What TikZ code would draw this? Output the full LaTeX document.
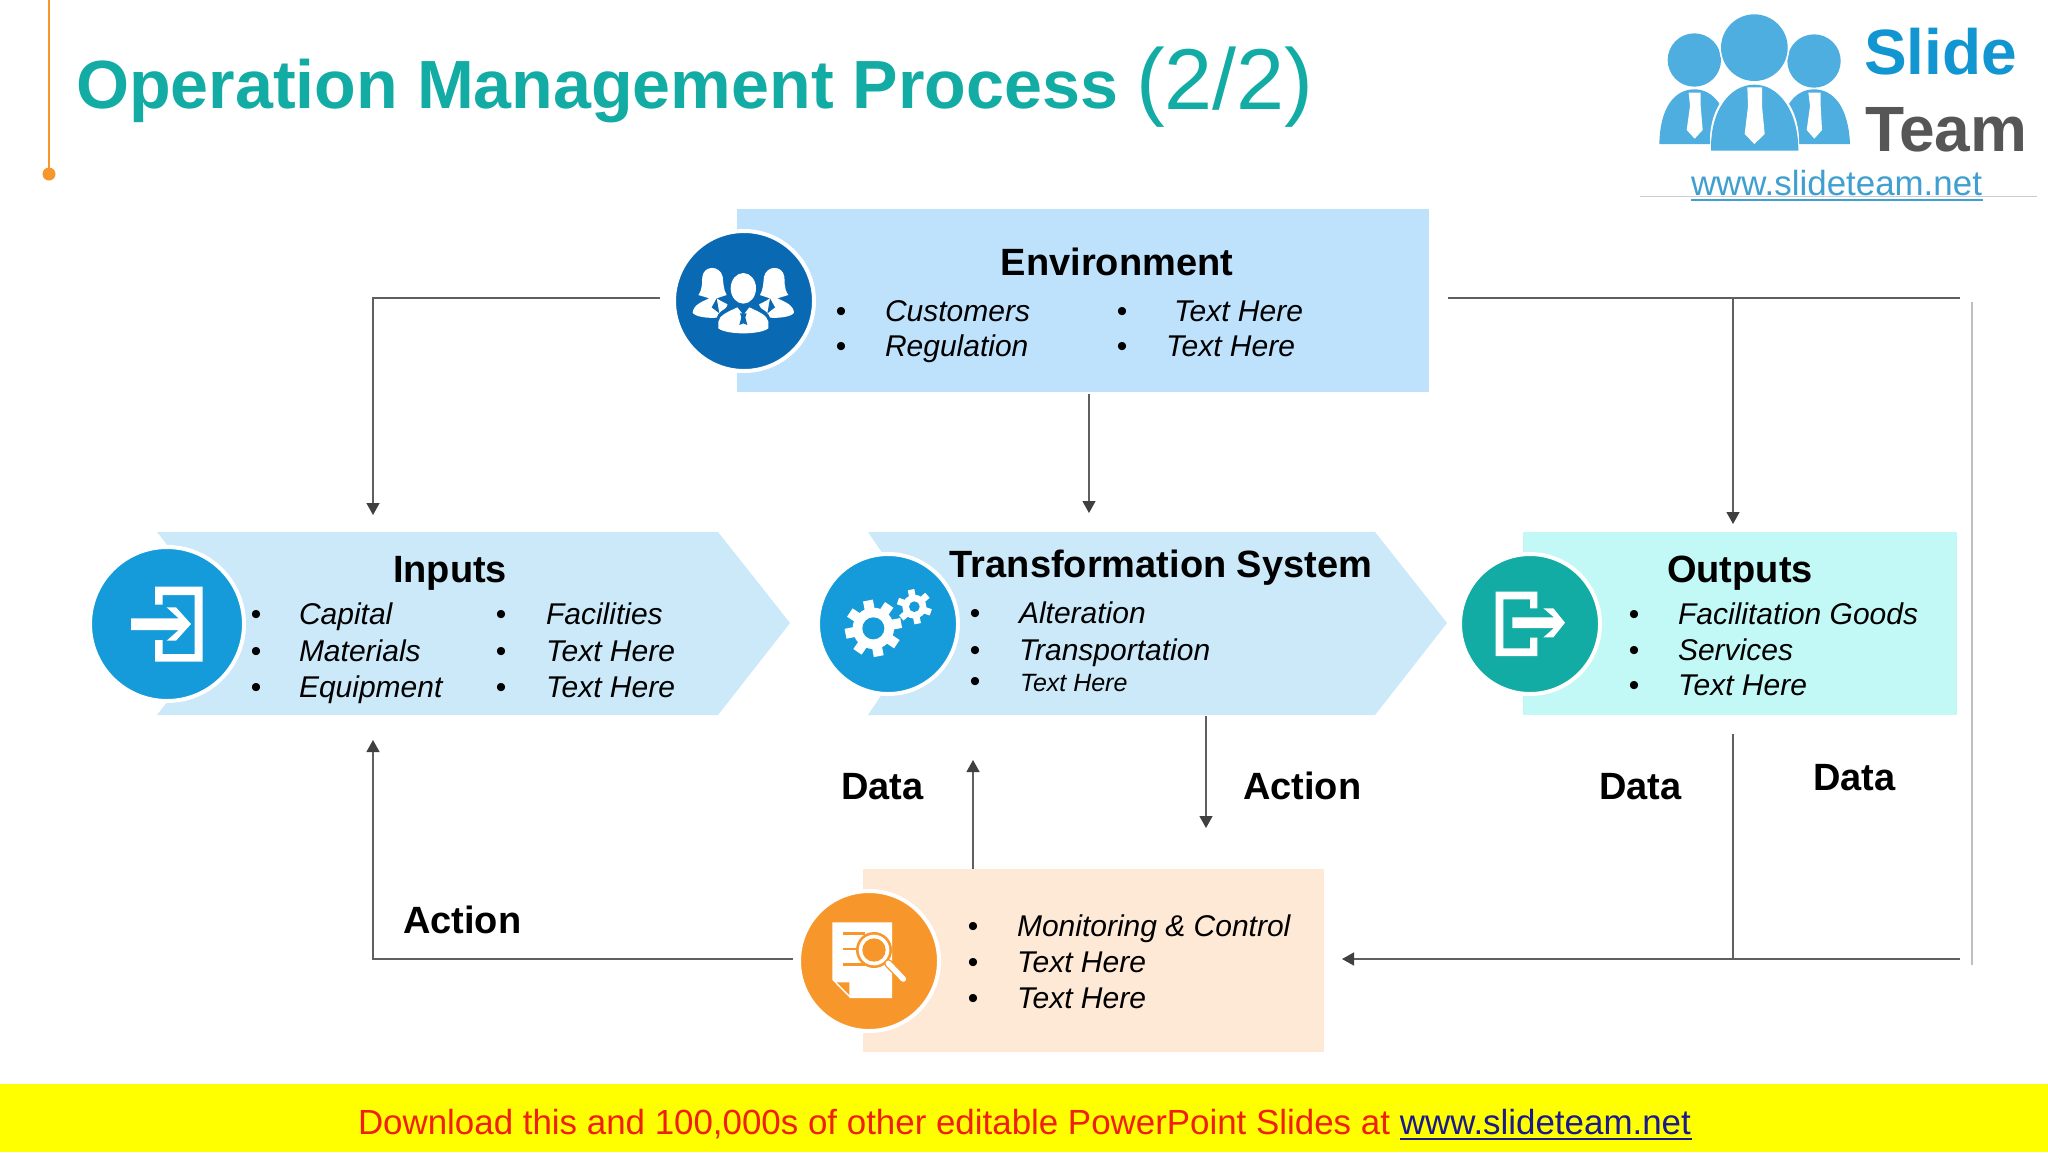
\documentclass[tikz,border=0pt]{standalone}
\usepackage{fontspec}
\setmainfont{Liberation Sans}
\usetikzlibrary{arrows.meta}
\definecolor{teal1}{HTML}{13ACA4}
\definecolor{blue1}{HTML}{159BD9}
\definecolor{blue2}{HTML}{0A69B3}
\definecolor{orange1}{HTML}{F7962A}
\definecolor{envfill}{HTML}{BEE1FC}
\definecolor{chevfill}{HTML}{CBE9F9}
\definecolor{outfill}{HTML}{C2F8F5}
\definecolor{monfill}{HTML}{FEE8D6}
\definecolor{linec}{HTML}{5F5F5F}
\definecolor{tipc}{HTML}{404040}
\definecolor{logoblue}{HTML}{4FAEE0}
\definecolor{slideblue}{HTML}{1296D2}
\definecolor{teamgrey}{HTML}{565656}
\definecolor{urlblue}{HTML}{3F9FD0}
\definecolor{yellowband}{HTML}{FFFF00}
\definecolor{footred}{HTML}{F02010}
\definecolor{footblue}{HTML}{1A1A8C}
\tikzset{
  conn/.style={draw=linec,line width=0.65pt},
  arr/.style={conn,-{Triangle[length=6pt,width=6.5pt,color=tipc,fill=tipc]}},
  circ/.style={circle,draw=white,line width=2pt,minimum size=70pt,inner sep=0pt},
  tbox/.style={inner sep=0pt,outer sep=0pt},
  hd/.style={tbox,anchor=base,font=\fontsize{19}{19}\selectfont\bfseries},
  lab/.style={tbox,anchor=base west,font=\fontsize{19}{19}\selectfont\bfseries},
  itx/.style={tbox,anchor=base west,font=\fontsize{15}{15}\selectfont\itshape},
  itsm/.style={tbox,anchor=base west,font=\fontsize{12.5}{12.5}\selectfont\itshape},
  bul/.style={tbox,anchor=base,font=\fontsize{15}{15}\selectfont},
  icon/.style={x=0.16667pt,y=-0.16667pt}
}
\newcommand{\cog}[7]{% cx cy outer inner hole teeth toothwidth
  \fill[white] (#1,#2) circle (#4);
  \foreach \a in {1,...,#6}{
    \fill[white,rotate around={\a*360/#6+11:(#1,#2)}] (#1-#7,#2) -- ++(0,-#3) -- ++(2*#7,0) -- (#1+#7,#2) -- cycle;
  }
  \fill[blue1] (#1,#2) circle (#5);
}
\begin{document}
\begin{tikzpicture}[x=0.5pt,y=-0.5pt]
\useasboundingbox (0,0) rectangle (2048,1152);
\fill[white] (0,0) rectangle (2048,1152);
% title accent
\draw[orange1,line width=1pt] (49,0) -- (49,172);
\fill[orange1] (49,174) circle (6.5);
\node[tbox,anchor=base west,text=teal1,font=\fontsize{34.1}{34}\selectfont\bfseries] (title) at (76,108) {Operation Management Process};
\node[tbox,anchor=base west,text=teal1,font=\fontsize{43.2}{43}\selectfont] (titleb) at (1136,109) {(2/2)};
% logo
\begin{scope}[shift={(1600,0)},icon]
  \fill[logoblue] (178,432) .. controls (180,320) and (225,268) .. (283,268) .. controls (340,268) and (385,320) .. (388,432) -- cycle;
  \fill[logoblue] (538,432) .. controls (540,320) and (585,268) .. (642,268) .. controls (700,268) and (745,320) .. (750,432) -- cycle;
  \fill[white] (330,452) -- (330,420) .. controls (330,320) and (390,248) .. (463,248) .. controls (535,248) and (595,320) .. (597,420) -- (597,452) -- cycle;
  \fill[logoblue] (333,452) .. controls (330,330) and (390,254) .. (463,254) .. controls (535,254) and (595,330) .. (595,452) -- cycle;
  \fill[logoblue] (283,180) circle (80);
  \fill[logoblue] (642,183) circle (80);
  \fill[white] (463,143) circle (105);
  \fill[logoblue] (463,143) circle (100);
  \fill[white] (266,278) -- (302,278) -- (302,318) -- (308,390) -- (284,416) -- (260,390) -- (270,318) -- cycle;
  \fill[white] (625,278) -- (662,278) -- (662,318) -- (666,390) -- (643,416) -- (620,390) -- (630,318) -- cycle;
  \fill[white] (442,262) -- (486,262) -- (486,318) -- (494,402) -- (463,432) -- (434,402) -- (444,318) -- cycle;
\end{scope}
\node[tbox,anchor=base west,text=slideblue,font=\fontsize{32}{32}\selectfont\bfseries] (logoslide) at (1864,74) {Slide};
\node[tbox,anchor=base west,text=teamgrey,font=\fontsize{32}{32}\selectfont\bfseries] (logoteam) at (1865,151) {Team};
\node[tbox,anchor=base west,text=urlblue,font=\fontsize{17.45}{17}\selectfont] (logourl) at (1691,195) {www.slideteam.net};
\draw[draw=black!20,line width=0.5pt] (1640,196) -- (2037,196);
\draw[urlblue,line width=1pt] (1691,200) -- (1983,200);
% panels
\fill[envfill] (737,209) rectangle (1429,392);
\fill[chevfill] (157,532) -- (718,532) -- (790,623) -- (718,715) -- (157,715) -- (229,623) -- cycle;
\fill[chevfill] (868,532) -- (1375,532) -- (1447,623) -- (1375,715) -- (868,715) -- (930,623) -- cycle;
\fill[outfill] (1523,532) rectangle (1957,715);
\fill[monfill] (863,869) rectangle (1324,1052);
% footer
\fill[yellowband] (0,1084) rectangle (2048,1152);
\node[tbox,anchor=base west,text=footred,font=\fontsize{17.45}{17}\selectfont] (foot) at (358,1134) {Download this and 100,000s of other editable PowerPoint Slides at \textcolor{footblue}{www.slideteam.net}};
\draw[footblue,line width=0.8pt] (1400,1139) -- (1692,1139);
% circles
\node[circ,fill=blue2,minimum size=70pt] (cenv) at (744,301) {};
\node[circ,fill=blue1,minimum size=77pt] (cin) at (167,624) {};
\node[circ,fill=blue1] (ctr) at (888,624) {};
\node[circ,fill=teal1] (cout) at (1530,624) {};
\node[circ,fill=orange1] (cmon) at (869,961) {};
% env icon
\begin{scope}[shift={(660,200)},icon]
  \fill[white] (98,338) .. controls (100,315) and (125,305) .. (148,295) -- (115,285) .. controls (130,265) and (125,240) .. (127,230) .. controls (132,195) and (180,195) .. (188,230) .. controls (190,245) and (190,270) .. (200,285) -- (170,295) .. controls (185,305) and (200,312) .. (215,318) .. controls (190,325) and (172,340) .. (170,353) .. controls (140,355) and (105,350) .. (98,338) -- cycle;
  \fill[white] (402,338) .. controls (400,315) and (375,305) .. (352,295) -- (385,285) .. controls (370,265) and (375,240) .. (373,230) .. controls (368,195) and (320,195) .. (312,230) .. controls (310,245) and (310,270) .. (300,285) -- (330,295) .. controls (315,305) and (300,312) .. (285,318) .. controls (310,325) and (328,340) .. (330,353) .. controls (360,355) and (395,350) .. (402,338) -- cycle;
  \fill[blue2] (170,295) -- (178,340) -- (155,322) -- cycle;
  \fill[blue2] (330,295) -- (322,340) -- (345,322) -- cycle;
  \fill[blue2] (205,305) .. controls (205,325) and (180,340) .. (165,360) -- (165,395) -- (335,395) -- (335,360) .. controls (320,340) and (295,325) .. (295,305) -- cycle;
  \fill[white] (250,265) ellipse (38 and 46);
  \fill[white] (175,385) -- (175,365) .. controls (178,345) and (205,335) .. (232,322) -- (250,345) -- (268,322) .. controls (295,335) and (322,345) .. (325,365) -- (325,385) .. controls (300,405) and (200,405) .. (175,385) -- cycle;
  \fill[blue2] (240,340) -- (260,340) -- (256,352) -- (262,375) -- (250,370) -- (238,375) -- (244,352) -- cycle;
\end{scope}
% inputs icon
\begin{scope}[shift={(80,520)},icon]
  \fill[white] (225,200) -- (368,200) -- (368,425) -- (225,425) -- (225,360) -- (248,360) -- (248,402) -- (344,402) -- (344,225) -- (248,225) -- (248,254) -- (225,254) -- cycle;
  \fill[white] (153,295) -- (296,295) -- (260,262) -- (288,262) -- (333,312) -- (288,362) -- (260,362) -- (296,330) -- (153,330) -- cycle;
\end{scope}
% gears icon
\begin{scope}[shift={(810,540)},icon]
  \cog{190}{265}{85}{62}{33}{8}{15}
  \cog{313}{200}{52}{36}{16}{6}{10}
\end{scope}
% outputs icon
\begin{scope}[shift={(1450,540)},icon]
  \fill[white] (137,155) -- (262,155) -- (262,205) -- (240,205) -- (240,178) -- (160,178) -- (160,325) -- (240,325) -- (240,293) -- (262,293) -- (262,348) -- (137,348) -- cycle;
  \fill[white] (187,232) -- (312,232) -- (280,205) -- (310,205) -- (345,248) -- (310,292) -- (280,292) -- (312,264) -- (187,264) -- cycle;
\end{scope}
% monitoring icon
\begin{scope}[shift={(790,880)},icon]
  \fill[white] (127,127) -- (306,127) -- (306,354) -- (180,354) -- (127,300) -- cycle;
  \fill[orange1] (140,307) -- (178,307) -- (178,345) -- cycle;
  \draw[orange1,line width=1.3pt] (160,160) -- (225,160) (160,207) -- (205,207) (160,253) -- (225,253);
  \fill[orange1] (252,210) circle (54);
  \fill[white] (252,210) circle (46);
  \fill[orange1] (252,210) circle (35);
  \draw[orange1,line width=4.2pt,line cap=round] (295,250) -- (340,297);
  \draw[white,line width=2.8pt,line cap=round] (295,250) -- (340,297);
\end{scope}
% text: environment
\node[hd] (envh) at (1117,275) {Environment};
\node[bul] (eb1) at (841,321) {•};
\node[bul] (eb2) at (841,356) {•};
\node[bul] (eb3) at (1122,321) {•};
\node[bul] (eb4) at (1122,356) {•};
\node[itx] (et1) at (885,321) {Customers};
\node[itx] (et2) at (885,356) {Regulation};
\node[itx] (et3) at (1174,321) {Text Here};
\node[itx] (et4) at (1166,356) {Text Here};
% text: inputs
\node[hd] (inh) at (450,582) {Inputs};
\node[bul] (ib1) at (256,624) {•};
\node[bul] (ib2) at (256,661) {•};
\node[bul] (ib3) at (256,697) {•};
\node[bul] (ib4) at (501,624) {•};
\node[bul] (ib5) at (501,661) {•};
\node[bul] (ib6) at (501,697) {•};
\node[itx] (it1) at (299,624) {Capital};
\node[itx] (it2) at (299,661) {Materials};
\node[itx] (it3) at (299,697) {Equipment};
\node[itx] (it4) at (546,624) {Facilities};
\node[itx] (it5) at (546,661) {Text Here};
\node[itx] (it6) at (546,697) {Text Here};
% text: transformation
\node[hd] (trh) at (1161,577) {Transformation System};
\node[bul] (tb1) at (975,623) {•};
\node[bul] (tb2) at (975,660) {•};
\node[bul] (tb3) at (975,691) {•};
\node[itx] (tt1) at (1019,623) {Alteration};
\node[itx] (tt2) at (1019,660) {Transportation};
\node[itsm] (tt3) at (1020,691) {Text Here};
% text: outputs
\node[hd] (outh) at (1740,582) {Outputs};
\node[bul] (ob1) at (1634,624) {•};
\node[bul] (ob2) at (1634,660) {•};
\node[bul] (ob3) at (1634,695) {•};
\node[itx] (ot1) at (1678,624) {Facilitation Goods};
\node[itx] (ot2) at (1678,660) {Services};
\node[itx] (ot3) at (1678,695) {Text Here};
% text: monitoring
\node[bul] (mb1) at (973,936) {•};
\node[bul] (mb2) at (973,972) {•};
\node[bul] (mb3) at (973,1008) {•};
\node[itx] (mt1) at (1017,936) {Monitoring \& Control};
\node[itx] (mt2) at (1017,972) {Text Here};
\node[itx] (mt3) at (1017,1008) {Text Here};
% labels
\node[lab] (l1) at (841,799) {Data};
\node[lab] (l2) at (1243,799) {Action};
\node[lab] (l3) at (1599,799) {Data};
\node[lab] (l4) at (1813,790) {Data};
\node[lab] (l5) at (403,933) {Action};
% connector ends
\coordinate (e1) at (660,298);
\coordinate (inTop) at (373,515);
\coordinate (e2) at (1089,394);
\coordinate (trTop) at (1089,513);
\coordinate (e3) at (1448,298);
\coordinate (e4) at (1960,298);
\coordinate (e5) at (1733,298);
\coordinate (outTop) at (1733,524);
\coordinate (g1) at (1972,302);
\coordinate (g2) at (1972,965);
\coordinate (m1) at (1960,959);
\coordinate (m2) at (1342,959);
\coordinate (m3) at (1733,734);
\coordinate (m4) at (1733,959);
\coordinate (a1) at (793,959);
\coordinate (inBot) at (373,740);
\coordinate (d1) at (973,869);
\coordinate (d2) at (973,760);
\coordinate (c1) at (1206,716);
\coordinate (c2) at (1206,828);
\draw[arr] (e1) -| (inTop);
\draw[arr] (e2) -- (trTop);
\draw[conn] (e3) -- (e4);
\draw[arr] (e5) -- (outTop);
\draw[draw=black!25,line width=0.8pt] (g1) -- (g2);
\draw[arr,line width=0.8pt] (m1) -- (m2);
\draw[conn] (m3) -- (m4);
\draw[arr] (a1) -| (inBot);
\draw[arr] (d1) -- (d2);
\draw[arr] (c1) -- (c2);
\end{tikzpicture}
\end{document}
